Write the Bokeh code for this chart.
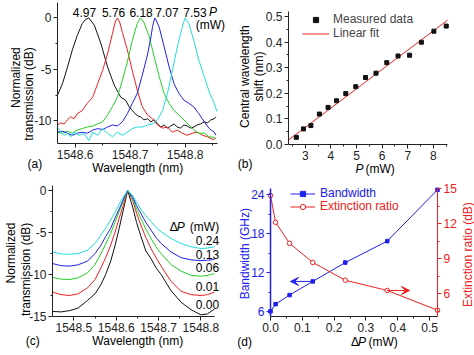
import math
from bokeh.plotting import figure
from bokeh.models import (Range1d, LinearAxis, FixedTicker, PrintfTickFormatter, Label,
                          Legend, LegendItem, Arrow, VeeHead)
from bokeh.layouts import column, row
from bokeh.embed import file_html
from bokeh.resources import INLINE

FONT = "Liberation Sans"
FS = "12px"
BLACK = "#111111"
RED = "#ee2020"
GREEN = "#22d022"
BLUE = "#2020ee"
CYAN = "#22dede"
AXIS = "#222222"

# ---------------- Panel (a) data ----------------
A_POWER_LABELS = ["4.97", "5.76", "6.18", "7.07", "7.53"]
A_LABEL_WL = [1548.617, 1548.670, 1548.720, 1548.767, 1548.818]

A_WL_497 = [1548.568, 1548.577, 1548.586, 1548.595, 1548.604, 1548.613, 1548.619, 1548.625, 1548.635,
            1548.647, 1548.659, 1548.671, 1548.677, 1548.683, 1548.692, 1548.698, 1548.704, 1548.713,
            1548.719, 1548.725, 1548.732, 1548.738, 1548.744, 1548.750, 1548.756, 1548.762, 1548.768,
            1548.774, 1548.780, 1548.786, 1548.792, 1548.798, 1548.804, 1548.810, 1548.816, 1548.822,
            1548.828, 1548.835, 1548.841, 1548.847, 1548.853, 1548.856]
A_DB_497 = [-7.5, -6.4, -4.8, -3.1, -1.7, -0.55, -0.15, 0.0, -0.7,
            -2.5, -4.75, -6.5, -7.1, -7.7, -8.0, -8.6, -9.0, -9.5,
            -9.6, -9.9, -9.8, -10.1, -9.9, -10.3, -10.6, -10.4, -10.7,
            -10.5, -10.3, -10.6, -10.7, -10.4, -10.5, -10.7, -10.6, -10.4,
            -10.3, -10.1, -10.2, -9.9, -9.8, -9.6]

A_WL_576 = [1548.568, 1548.574, 1548.580, 1548.586, 1548.592, 1548.598, 1548.604, 1548.613, 1548.622,
            1548.632, 1548.641, 1548.650, 1548.659, 1548.668, 1548.673, 1548.677, 1548.681, 1548.686,
            1548.695, 1548.704, 1548.713, 1548.722, 1548.732, 1548.741, 1548.750, 1548.759, 1548.768,
            1548.777, 1548.786, 1548.795, 1548.804, 1548.813, 1548.822, 1548.832, 1548.841, 1548.850,
            1548.856]
A_DB_576 = [-10.4, -10.2, -10.3, -9.9, -9.6, -9.8, -9.3, -9.0, -8.3,
            -7.7, -6.4, -5.1, -3.5, -1.5, -0.4, 0.0, -0.4, -1.4,
            -3.1, -5.1, -7.0, -8.6, -9.45, -9.8, -10.4, -10.7, -10.6,
            -11.1, -10.9, -11.2, -11.4, -11.2, -11.1, -11.4, -11.55, -11.8,
            -11.7]

A_WL_618 = [1548.568, 1548.577, 1548.586, 1548.595, 1548.604, 1548.613, 1548.622, 1548.632, 1548.641,
            1548.650, 1548.659, 1548.668, 1548.677, 1548.686, 1548.695, 1548.704, 1548.713, 1548.719,
            1548.725, 1548.735, 1548.744, 1548.753, 1548.762, 1548.771, 1548.780, 1548.789, 1548.798,
            1548.807, 1548.816, 1548.825, 1548.835, 1548.844, 1548.853, 1548.856]
A_DB_618 = [-11.1, -11.2, -11.0, -11.2, -10.9, -10.75, -10.6, -10.5, -10.3,
            -10.1, -9.45, -8.6, -7.7, -6.05, -4.3, -2.2, -0.55, 0.0,
            -0.4, -1.85, -3.8, -5.7, -7.35, -8.3, -9.0, -9.45, -9.9,
            -10.4, -10.9, -11.2, -11.2, -11.55, -11.6, -11.8]

A_WL_707 = [1548.568, 1548.577, 1548.586, 1548.595, 1548.604, 1548.613, 1548.622, 1548.632, 1548.641,
            1548.650, 1548.659, 1548.668, 1548.677, 1548.686, 1548.695, 1548.704, 1548.713, 1548.722,
            1548.732, 1548.738, 1548.741, 1548.745, 1548.748, 1548.753, 1548.762, 1548.771, 1548.780,
            1548.789, 1548.798, 1548.807, 1548.816, 1548.825, 1548.835, 1548.844, 1548.853, 1548.856]
A_DB_707 = [-11.1, -11.0, -11.2, -11.4, -11.2, -11.1, -11.2, -10.9, -10.75,
            -10.85, -10.6, -10.4, -10.5, -10.1, -9.3, -8.3, -7.35, -5.6,
            -3.5, -1.85, -0.8, 0.0, -0.3, -0.9, -2.8, -4.75, -6.4,
            -7.35, -8.0, -8.3, -8.65, -9.3, -10.1, -10.75, -11.1, -11.4]

A_WL_753 = [1548.568, 1548.574, 1548.580, 1548.586, 1548.592, 1548.598, 1548.607, 1548.616, 1548.625,
            1548.632, 1548.641, 1548.650, 1548.659, 1548.668, 1548.677, 1548.686, 1548.695, 1548.704,
            1548.713, 1548.722, 1548.732, 1548.741, 1548.750, 1548.759, 1548.768, 1548.777, 1548.786,
            1548.795, 1548.800, 1548.807, 1548.816, 1548.825, 1548.835, 1548.844, 1548.853, 1548.858]
A_DB_753 = [-10.6, -11.1, -11.4, -11.2, -11.55, -11.1, -11.4, -11.2, -11.9,
            -11.1, -11.4, -10.75, -11.2, -11.55, -11.1, -11.4, -11.1, -10.75,
            -10.6, -10.6, -10.4, -10.3, -9.9, -9.0, -7.35, -5.1, -2.8,
            -0.9, 0.0, -0.55, -2.2, -4.1, -5.7, -7.2, -8.3, -9.1]

# ---------------- Panel (b) data ----------------
B_POWER = [2.65, 2.93, 3.22, 3.55, 3.89, 4.22, 4.58, 4.97, 5.35, 5.76, 6.18, 6.62, 7.07, 7.53, 8.02, 8.50]
B_SHIFT = [0.028, 0.061, 0.074, 0.119, 0.145, 0.171, 0.199, 0.226, 0.262, 0.279, 0.320, 0.346, 0.349,
           0.400, 0.443, 0.463]
B_FIT_POWER = [2.35, 8.55]
B_FIT_SHIFT = [0.018, 0.486]

# ---------------- Panel (c) data ----------------
C_WL = [1548.45, 1548.47, 1548.49, 1548.51, 1548.532, 1548.55, 1548.564, 1548.575, 1548.587, 1548.597,
        1548.607, 1548.619, 1548.627, 1548.639, 1548.648, 1548.658, 1548.67, 1548.682, 1548.694,
        1548.706, 1548.729, 1548.753, 1548.777, 1548.80, 1548.815, 1548.832]
C_DB_000 = [-14.4, -14.45, -14.3, -14.0, -13.1, -12.3, -11.2, -10.0, -8.4, -6.6,
            -4.5, -1.8, 0.0, -2.0, -3.8, -5.4, -7.2, -8.1, -9.2,
            -10.0, -11.9, -13.3, -14.2, -14.8, -14.7, -14.1]
C_DB_001 = [-12.1, -12.4, -12.5, -12.3, -11.6, -10.6, -9.2, -8.0, -6.5, -5.0,
            -3.3, -1.4, 0.0, -1.2, -2.7, -4.1, -5.6, -6.9, -8.0,
            -9.0, -10.8, -12.0, -12.4, -12.5, -12.4, -12.1]
C_DB_006 = [-10.35, -10.55, -10.6, -10.4, -9.8, -8.8, -7.5, -6.4, -5.1, -3.8,
            -2.5, -1.0, 0.0, -1.0, -2.2, -3.3, -4.6, -5.7, -6.7,
            -7.5, -8.8, -9.6, -10.1, -10.2, -10.1, -9.9]
C_DB_013 = [-8.7, -8.95, -9.0, -8.85, -8.4, -7.5, -6.5, -5.5, -4.5, -3.3,
            -2.2, -0.8, 0.0, -0.8, -1.8, -2.7, -3.8, -4.7, -5.6,
            -6.3, -7.3, -8.0, -8.25, -8.35, -8.3, -8.2]
C_DB_024 = [-7.3, -7.55, -7.6, -7.5, -7.1, -6.3, -5.3, -4.5, -3.5, -2.6,
            -1.6, -0.6, 0.0, -0.6, -1.4, -2.2, -3.0, -3.7, -4.4,
            -4.9, -5.7, -6.3, -6.7, -6.9, -6.85, -6.7]
C_DP_LABELS = ["0.24", "0.13", "0.06", "0.01", "0.00"]

# ---------------- Panel (d) data ----------------
D_DP = [0.0, 0.016, 0.06, 0.133, 0.235, 0.367, 0.525]
D_BANDWIDTH = [6.1, 7.2, 8.6, 10.7, 13.6, 16.9, 24.8]
D_EXTINCTION = [14.4, 12.1, 10.3, 8.66, 7.14, 6.26, 4.57]


def outer(r, b_lo, b_hi, length):
    per = (r[1] - r[0]) / (length - b_lo - b_hi)
    return (r[0] - b_lo * per, r[1] + b_hi * per)


def style_axis(ax, ticks, minor, fmt, color=AXIS, lw=1):
    ax.ticker = FixedTicker(ticks=ticks, minor_ticks=minor)
    ax.formatter = PrintfTickFormatter(format=fmt)
    ax.major_label_text_font = FONT
    ax.major_label_text_font_size = FS
    ax.major_label_text_color = color
    ax.axis_line_color = color
    ax.axis_line_width = lw
    ax.major_tick_line_color = color
    ax.minor_tick_line_color = color
    ax.major_tick_out = 4
    ax.major_tick_in = 0
    ax.minor_tick_out = 2
    ax.minor_tick_in = 0
    ax.major_label_standoff = 2
    ax.axis_label = None


def make_fig(w, h, xr, yr, bl, br, bt, bb, xt, xm, xf, yt, ym, yf, ycolor=AXIS, ylw=1):
    p = figure(width=w, height=h, x_range=Range1d(*outer(xr, bl, br, w)),
               y_range=Range1d(*outer(yr, bb, bt, h)),
               output_backend="svg", toolbar_location=None,
               min_border=0, min_border_left=0, min_border_right=0, min_border_top=0,
               min_border_bottom=0)
    p.outline_line_color = None
    p.xgrid.visible = False
    p.ygrid.visible = False
    p.background_fill_color = "white"
    p.border_fill_color = "white"
    xa = p.xaxis[0]
    ya = p.yaxis[0]
    xa.fixed_location = yr[0]
    xa.bounds = xr
    ya.fixed_location = xr[0]
    ya.bounds = yr
    style_axis(xa, xt, xm, xf)
    style_axis(ya, yt, ym, yf, color=ycolor, lw=ylw)
    return p


def lab(p, x, y, text, align="center", baseline="middle", angle=0.0, color="black",
        style="normal", yname="default"):
    p.add_layout(Label(x=x, y=y, text=text, text_align=align, text_baseline=baseline,
                       angle=angle, text_color=color, text_font=FONT, text_font_size=FS,
                       text_font_style=style, y_range_name=yname))


# ================= (a) =================
pa = make_fig(237, 178, (1548.568, 1548.859), (-12.2, 1.5), 57, 20, 2, 35,
              [1548.6, 1548.7, 1548.8], [1548.65, 1548.75, 1548.85], "%.1f",
              [0, -5, -10], [-2.5, -7.5], "%d")
for wl, db, c in [(A_WL_497, A_DB_497, BLACK), (A_WL_576, A_DB_576, RED), (A_WL_618, A_DB_618, GREEN),
                  (A_WL_707, A_DB_707, BLUE), (A_WL_753, A_DB_753, CYAN)]:
    pa.line(wl, db, line_color=c, line_width=1)
for wl, t in zip(A_LABEL_WL, A_POWER_LABELS):
    lab(pa, wl, 0.55, t)
lab(pa, 1548.851, 0.55, "P", style="italic")
lab(pa, 1548.846, -0.71, "(mW)")
lab(pa, 1548.492, -2.85, "Normalized", align="right", angle=math.pi / 2)
lab(pa, 1548.517, -2.85, "transmission (dB)", align="right", angle=math.pi / 2)
lab(pa, 1548.714, -14.59, "Wavelength (nm)")
lab(pa, 1548.527, -14.2, "(a)")

# ================= (b) =================
pb = make_fig(237, 178, (2.345, 8.55), (0.0, 0.52), 51, 27, 11, 34,
              [3, 4, 5, 6, 7, 8], [2.5, 3.5, 4.5, 5.5, 6.5, 7.5, 8.5], "%d",
              [0.0, 0.1, 0.2, 0.3, 0.4, 0.5], [0.05, 0.15, 0.25, 0.35, 0.45], "%.1f")
r_fit = pb.line(B_FIT_POWER, B_FIT_SHIFT, line_color=RED, line_width=1)
r_pts = pb.scatter(B_POWER, B_SHIFT, marker="square", size=4, color=BLACK)
leg_b = Legend(items=[LegendItem(label="Measured data", renderers=[r_pts]),
                      LegendItem(label="Linear fit", renderers=[r_fit])],
               location=(65, 138), glyph_width=27, glyph_height=13, label_height=13,
               label_standoff=4, spacing=0, padding=0, margin=0, border_line_color=None,
               background_fill_alpha=0, label_text_font=FONT, label_text_font_size=FS)
pb.add_layout(leg_b)
lab(pb, 0.650, 0.2656, "Central wavelength", angle=math.pi / 2)
lab(pb, 1.186, 0.2656, "shift (nm)", angle=math.pi / 2)
lab(pb, 5.115, -0.094, "P", style="italic")
lab(pb, 5.35, -0.094, "(mW)", align="left")
lab(pb, 0.65, -0.078, "(b)")

# ================= (c) =================
pc = make_fig(237, 177, (1548.4496, 1548.832), (-15.0, 0.6), 52, 23, 7, 39,
              [1548.5, 1548.6, 1548.7, 1548.8], [1548.55, 1548.65, 1548.75], "%.1f",
              [0, -5, -10, -15], [-2.5, -7.5, -12.5], "%d")
for db, c in [(C_DB_000, BLACK), (C_DB_001, RED), (C_DB_006, GREEN), (C_DB_013, BLUE), (C_DB_024, CYAN)]:
    pc.line(C_WL, db, line_color=c, line_width=1)
lab(pc, 1548.745, -4.34, "\u0394", align="right")
lab(pc, 1548.762, -4.34, "P", align="right", style="italic")
lab(pc, 1548.843, -4.34, "(mW)", align="right")
for t, y in zip(C_DP_LABELS, [-5.92, -7.62, -9.19, -11.45, -13.54]):
    lab(pc, 1548.843, y, t, align="right")
lab(pc, 1548.351, -3.83, "Normalized", align="right", angle=math.pi / 2)
lab(pc, 1548.387, -3.83, "transmission (dB)", align="right", angle=math.pi / 2)
lab(pc, 1548.651, -17.93, "Wavelength (nm)")
lab(pc, 1548.403, -17.93, "(c)")

# ================= (d) =================
D_XR = (0.0, 0.525)
D_YR2 = (4.03, 15.0)
pd = make_fig(237, 177, D_XR, (5.3, 25.0), 33, 37, 10, 39,
              [0.0, 0.1, 0.2, 0.3, 0.4, 0.5], [0.05, 0.15, 0.25, 0.35, 0.45], "%.1f",
              [6, 12, 18, 24], [9, 15, 21], "%d", ycolor=BLUE, ylw=1.5)
pd.extra_y_ranges = {"er": Range1d(*outer(D_YR2, 39, 10, 177))}
ax_r = LinearAxis(y_range_name="er", fixed_location=D_XR[1], bounds=D_YR2)
style_axis(ax_r, [6, 9, 12, 15], [4.5, 7.5, 10.5, 13.5], "%d", color=RED, lw=1)
pd.add_layout(ax_r, "right")
r_bw_l = pd.line(D_DP, D_BANDWIDTH, line_color=BLUE, line_width=1)
r_bw_p = pd.scatter(D_DP, D_BANDWIDTH, marker="square", size=3.5, color=BLUE)
r_er_l = pd.line(D_DP, D_EXTINCTION, line_color=RED, line_width=1, y_range_name="er")
r_er_p = pd.scatter(D_DP, D_EXTINCTION, marker="circle", size=4.5, fill_color="white",
                    line_color=RED, line_width=1, y_range_name="er")
leg_bw = Legend(items=[LegendItem(label="Bandwidth", renderers=[r_bw_l, r_bw_p])],
                location=(53, 155), glyph_width=25, glyph_height=13, label_height=13,
                label_standoff=5, spacing=0, padding=0, margin=0, border_line_color=None,
                background_fill_alpha=0, label_text_font=FONT, label_text_font_size=FS,
                label_text_color=BLUE)
leg_er = Legend(items=[LegendItem(label="Extinction ratio", renderers=[r_er_l, r_er_p])],
                location=(53, 142), glyph_width=25, glyph_height=13, label_height=13,
                label_standoff=5, spacing=0, padding=0, margin=0, border_line_color=None,
                background_fill_alpha=0, label_text_font=FONT, label_text_font_size=FS,
                label_text_color=RED)
pd.add_layout(leg_bw)
pd.add_layout(leg_er)
pd.add_layout(Arrow(end=VeeHead(size=8, fill_color=BLUE, line_color=BLUE), x_start=0.135, y_start=10.7,
                    x_end=0.063, y_end=10.7, line_color=BLUE, line_width=1))
pd.add_layout(Arrow(end=VeeHead(size=8, fill_color=RED, line_color=RED), x_start=0.366, y_start=6.26,
                    x_end=0.437, y_end=6.26, line_color=RED, line_width=1, y_range_name="er"))
lab(pd, -0.0814, 14.97, "Bandwidth (GHz)", angle=math.pi / 2, color=BLUE)
lab(pd, 0.6205, 9.34, "Extinction ratio (dB)", angle=math.pi / 2, color=RED, yname="er")
lab(pd, 0.278, 1.43, "\u0394", align="right")
lab(pd, 0.300, 1.43, "P", align="right", style="italic")
lab(pd, 0.308, 1.43, "(mW)", align="left")
lab(pd, -0.0814, 1.43, "(d)")

layout = column(row(pa, pb), row(pc, pd))
open("out.html", "w").write(file_html(layout, INLINE))
